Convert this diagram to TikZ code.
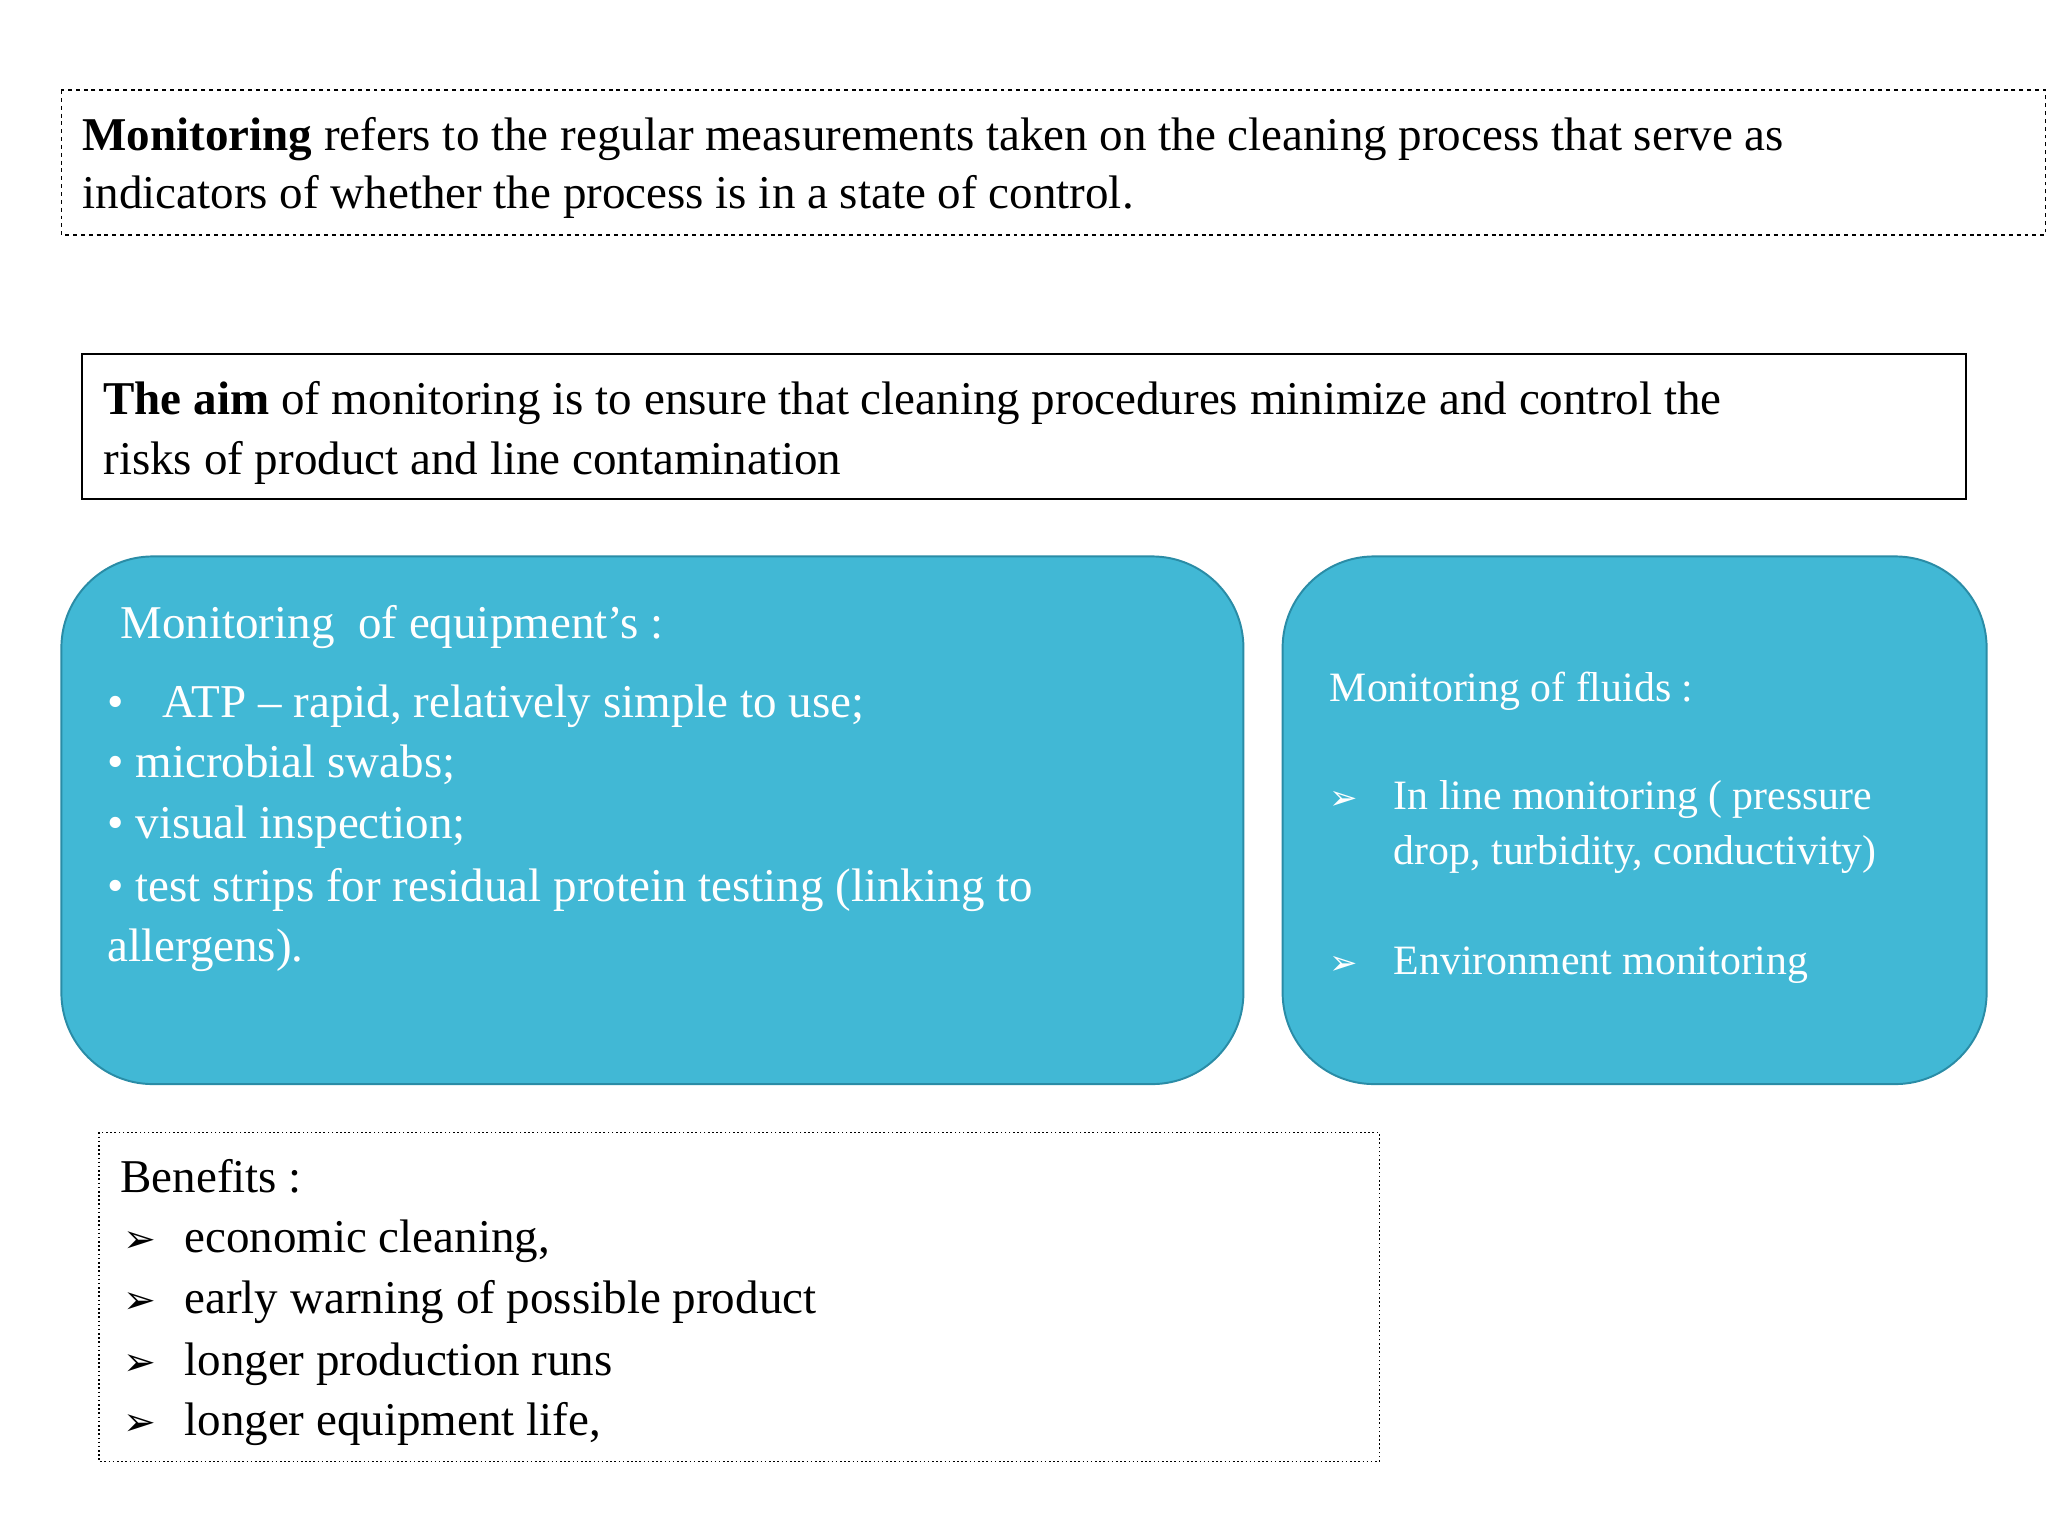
\documentclass[tikz,border=0pt]{standalone}
\usepackage{fontspec}
\setmainfont{Liberation Serif}
\newfontfamily\sym{DejaVu Sans}
\definecolor{teal1}{HTML}{41B8D5}
\definecolor{teal2}{HTML}{2A8CA6}
\begin{document}
\begin{tikzpicture}[x=1pt,y=-1pt,
 txt/.style={anchor=base west,inner sep=0,font=\fontsize{36}{46}\selectfont},
 wtxt/.style={txt,text=white},
 stxt/.style={anchor=base west,inner sep=0,text=white,font=\fontsize{32}{42}\selectfont},
 tbox/.style={draw=teal2,line width=1.5pt,fill=teal1,rounded corners=70pt}]
\useasboundingbox (0,0) rectangle (1568,1176);
\draw[dashed,line width=1.2pt] (47,69) rectangle (1566,180);
\node[txt] (a1) at (63,115) {\textbf{Monitoring} refers to the regular measurements taken on the cleaning process that serve as};
\node[txt] (a2) at (63,160) {indicators of whether the process is in a state of control.};
\draw[line width=1.5pt] (63,271) rectangle (1505,382);
\node[txt] (b1) at (79,317) {\textbf{The aim} of monitoring is to ensure that cleaning procedures minimize and control the};
\node[txt] (b2) at (79,363) {risks of product and line contamination};
\draw[tbox] (47,426) rectangle (952,830);
\draw[tbox] (982,426) rectangle (1521,830);
\node[wtxt] (c0) at (92,489) {Monitoring\ \ of equipment’s :};
\node[wtxt] (c1) at (82,549) {•\hspace{30pt}ATP – rapid, relatively simple to use;};
\node[wtxt] (c2) at (82,595) {• microbial swabs;};
\node[wtxt] (c3) at (82,642) {• visual inspection;};
\node[wtxt] (c4) at (82,690) {• test strips for residual protein testing (linking to};
\node[wtxt] (c5) at (82,736) {allergens).};
\node[stxt] (d0) at (1018,537) {Monitoring of fluids :};
\node[stxt] (d1) at (1018,620) {{\sym\fontsize{26}{30}\selectfont ➢}};
\node[stxt] (d1t) at (1067,620) {In line monitoring ( pressure};
\node[stxt] (d2t) at (1067,662) {drop, turbidity, conductivity)};
\node[stxt] (d3) at (1018,746) {{\sym\fontsize{26}{30}\selectfont ➢}};
\node[stxt] (d3t) at (1067,746) {Environment monitoring};
\draw[dotted,line width=1.2pt] (76,867) rectangle (1056,1119);
\node[txt] (e0) at (92,913) {Benefits :};
\foreach \y/\t [count=\i] in {959/{economic cleaning,},1006/{early warning of possible product},1053/{longer production runs},1099/{longer equipment life,}}{
 \node[txt] (ea\i) at (94,\y) {{\sym\fontsize{30}{34}\selectfont ➢}};
 \node[txt] (et\i) at (141,\y) {\t};
}
\end{tikzpicture}
\end{document}
